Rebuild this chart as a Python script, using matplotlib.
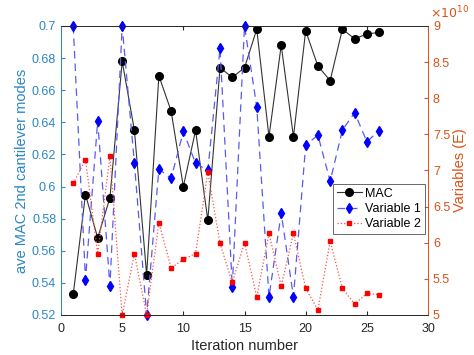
import matplotlib
matplotlib.use("Agg")
import matplotlib.pyplot as plt

iterations = list(range(1, 27))

mac = [0.533, 0.595, 0.568, 0.593, 0.678, 0.635, 0.545, 0.669, 0.647, 0.600,
       0.635, 0.579, 0.674, 0.668, 0.674, 0.698, 0.631, 0.688, 0.631, 0.697,
       0.675, 0.666, 0.698, 0.692, 0.695, 0.696]

# variables in units of 1e10
var1 = [9.00, 5.49, 7.69, 5.40, 9.00, 7.10, 5.00, 7.02, 6.89, 7.54,
        7.10, 7.00, 8.69, 5.39, 9.00, 7.88, 5.25, 6.41, 5.25, 7.35,
        7.49, 6.85, 7.56, 7.80, 7.40, 7.55]

var2 = [6.82, 7.15, 5.85, 7.20, 5.00, 5.85, 5.00, 6.28, 5.65, 5.77,
        5.85, 6.98, 5.99, 5.45, 6.00, 5.25, 6.13, 5.40, 6.13, 5.37,
        5.07, 6.02, 5.37, 5.15, 5.30, 5.28]

left_color = '#2a86c4'
right_color = '#D95319'

plt.rcParams['font.family'] = ['Liberation Sans', 'DejaVu Sans']

fig = plt.figure(figsize=(4.74, 3.55), dpi=100)
ax = fig.add_axes([0.1287, 0.1127, 0.7743, 0.8141])
ax2 = ax.twinx()

l1, = ax.plot(iterations, mac, '-o', color='#333333', lw=0.8,
              markerfacecolor='black', markeredgecolor='black', markersize=5.5,
              label='MAC', zorder=3)
l2, = ax2.plot(iterations, var1, '--d', color='#5a5aee', lw=0.9,
               markerfacecolor='#0000ff', markeredgecolor='#0000ff', markersize=5,
               dashes=(6, 4), label='Variable 1', clip_on=False)
l3, = ax2.plot(iterations, var2, ':s', color='#ff5050', lw=0.9,
               markerfacecolor='#ff0000', markeredgecolor='#ff0000', markersize=3.5,
               label='Variable 2', clip_on=False)

ax.set_xlim(0, 30)
ax.set_ylim(0.52, 0.7)
ax.set_xticks(range(0, 31, 5))
ax.set_yticks([0.52 + 0.02 * k for k in range(10)])
ax.set_yticklabels(['0.52', '0.54', '0.56', '0.58', '0.6', '0.62', '0.64',
                    '0.66', '0.68', '0.7'])
ax2.set_ylim(5, 9)
ax2.set_yticks([5 + 0.5 * k for k in range(9)])
ax2.set_yticklabels(['5', '5.5', '6', '6.5', '7', '7.5', '8', '8.5', '9'])

ax.set_xlabel('Iteration number', fontsize=10.5, color='#262626', labelpad=3)
ax.set_ylabel('ave MAC 2nd cantilever modes', fontsize=10.5, color=left_color, labelpad=2)
ax2.set_ylabel('Variables (E)', fontsize=10.5, color=right_color, labelpad=2)

ax.tick_params(axis='x', direction='in', top=True, length=3, labelsize=9,
               colors='#262626', pad=6)
ax.tick_params(axis='y', direction='in', length=3, labelsize=9, colors=left_color)
ax2.tick_params(axis='y', direction='in', length=3, labelsize=9, colors=right_color)

for a in (ax, ax2):
    a.spines['top'].set_color('#262626')
    a.spines['bottom'].set_color('#262626')
    a.spines['left'].set_color(left_color)
    a.spines['right'].set_color(right_color)
    for s in a.spines.values():
        s.set_linewidth(0.6)

ax2.text(1.005, 1.015, r'$\times10^{10}$', transform=ax2.transAxes,
         color=right_color, fontsize=9, ha='left', va='bottom')

leg = ax2.legend(handles=[l1, l2, l3], loc='upper right',
                 bbox_to_anchor=(0.992, 0.453), borderaxespad=0,
                 fontsize=9, frameon=True, fancybox=False, handlelength=2.0,
                 handletextpad=0.3, borderpad=0.3, labelspacing=0.25)
leg.get_frame().set_edgecolor('#262626')
leg.get_frame().set_linewidth(0.6)

fig.savefig('out.png', dpi=100)
